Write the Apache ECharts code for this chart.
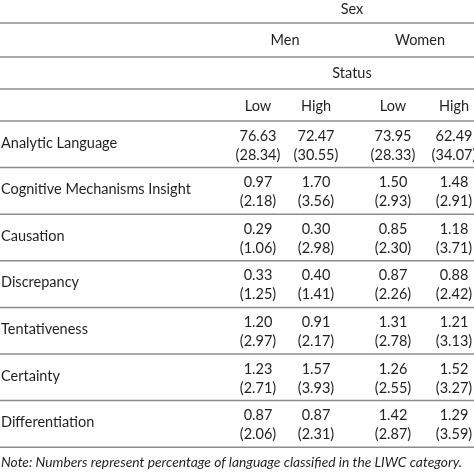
<!DOCTYPE html>
<html>
<head>
<meta charset="utf-8">
<script src="https://cdn.jsdelivr.net/npm/echarts@6/dist/echarts.min.js"></script>
<style>html,body{margin:0;padding:0;background:#fff}#c{width:474px;height:472px}</style>
</head>
<body>
<div id="c"></div>
<script>
const rowLabels = ["Analytic Language", "Cognitive Mechanisms Insight", "Causation", "Discrepancy",
  "Tentativeness", "Certainty", "Differentiation"];
const colLabels = ["Low", "High", "Low", "High"];
const sexLabels = ["Men", "Women"];
const means = [
  ["76.63", "72.47", "73.95", "62.49"],
  ["0.97", "1.70", "1.50", "1.48"],
  ["0.29", "0.30", "0.85", "1.18"],
  ["0.33", "0.40", "0.87", "0.88"],
  ["1.20", "0.91", "1.31", "1.21"],
  ["1.23", "1.57", "1.26", "1.52"],
  ["0.87", "0.87", "1.42", "1.29"]
];
const sds = [
  ["(28.34)", "(30.55)", "(28.33)", "(34.07)"],
  ["(2.18)", "(3.56)", "(2.93)", "(2.91)"],
  ["(1.06)", "(2.98)", "(2.30)", "(3.71)"],
  ["(1.25)", "(1.41)", "(2.26)", "(2.42)"],
  ["(2.97)", "(2.17)", "(2.78)", "(3.13)"],
  ["(2.71)", "(3.93)", "(2.55)", "(3.27)"],
  ["(2.06)", "(2.31)", "(2.87)", "(3.59)"]
];
const note = "Note: Numbers represent percentage of language classified in the LIWC category.";

const font = "Lato, 'Open Sans', sans-serif";
const ink = "#231f20";
const colX = [258, 316, 393, 454];
const sexX = [285, 420];
const headLines = [23, 57, 89, 121];
const rowTop = 121, rowH = 46.6;

const g = [];
function txt(x, y, s, align, size, italic) {
  g.push({ type: "text", x: x, y: y, style: { text: s, fill: ink, font: (italic ? "italic " : "") + (size || 14.5) + "px " + font, textAlign: align || "center", textVerticalAlign: "middle" } });
}
function hline(y) {
  g.push({ type: "line", shape: { x1: 0, y1: y, x2: 474, y2: y }, style: { stroke: "#8c8c8c", lineWidth: 1.5 } });
}
headLines.forEach(hline);
txt(352, 9, "Sex");
sexLabels.forEach((s, i) => txt(sexX[i], 40, s));
txt(352, 73, "Status");
colLabels.forEach((s, i) => txt(colX[i], 106, s));
rowLabels.forEach((lab, r) => {
  const top = rowTop + r * rowH;
  txt(1, top + 22, lab, "left");
  means[r].forEach((m, i) => txt(colX[i], top + 15, m));
  sds[r].forEach((s, i) => txt(colX[i], top + 34, s));
  hline(top + rowH);
});
txt(1, 463, note, "left", 13.8, true);

const chart = echarts.init(document.getElementById("c"));
chart.setOption({ animation: false, graphic: g });
</script>
</body>
</html>
